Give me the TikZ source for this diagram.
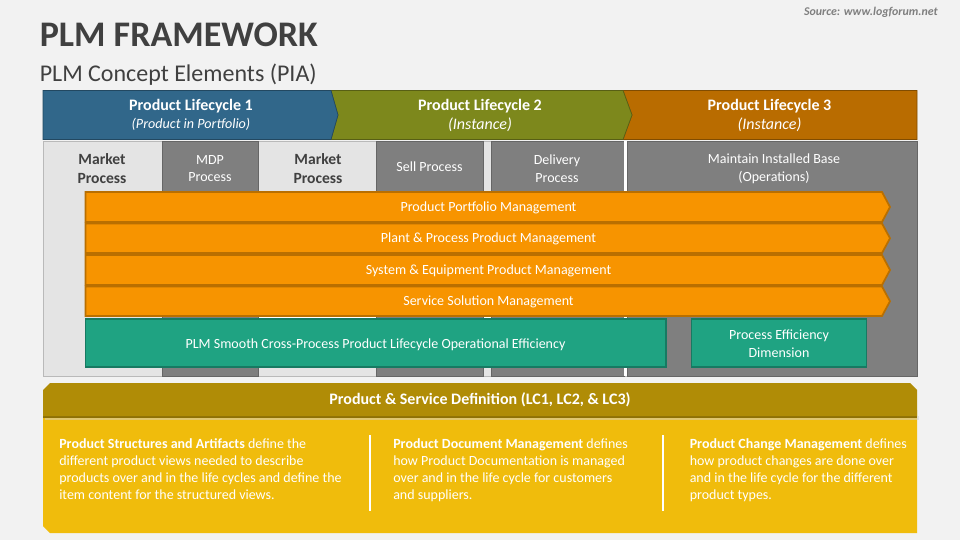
\documentclass[tikz,border=0pt]{standalone}
\usepackage{fontspec}
\setmainfont{Carlito}
\usetikzlibrary{calc}
\definecolor{bgc}{HTML}{F2F2F2}
\definecolor{panelc}{HTML}{E4E4E4}
\definecolor{grayc}{HTML}{7F7F7F}
\definecolor{grayd}{HTML}{666666}
\definecolor{bluec}{HTML}{31678A}
\definecolor{olivec}{HTML}{7D881C}
\definecolor{brownc}{HTML}{B96C00}
\definecolor{orangec}{HTML}{F79400}
\definecolor{oranged}{HTML}{B96F00}
\definecolor{greenc}{HTML}{1FA382}
\definecolor{greend}{HTML}{177A62}
\definecolor{goldc}{HTML}{B08C06}
\definecolor{goldd}{HTML}{8E7105}
\definecolor{yellowc}{HTML}{F0BC0C}
\definecolor{darkt}{HTML}{404040}
\tikzset{
  x=0.75pt,y=-0.75pt,
  lbl/.style={align=center,text=white,font=\fontsize{10.5}{13.2}\selectfont,inner sep=0pt},
  darklbl/.style={align=center,text=darkt,font=\fontsize{11.7}{14.4}\selectfont\bfseries,inner sep=0pt},
  head/.style={align=center,text=white,font=\fontsize{12}{14.6}\selectfont,inner sep=0pt},
  para/.style={align=left,anchor=north west,text=white,font=\fontsize{10.5}{12.8}\selectfont,inner sep=0pt},
  graybox/.style={fill=grayc,draw=grayd,line width=0.6pt},
  bar/.style={fill=orangec,draw=oranged,line width=1.3pt},
  greenbox/.style={fill=greenc,draw=greend,line width=1.3pt},
  divider/.style={draw=white,line width=1.1pt}
}
\begin{document}
\begin{tikzpicture}
\fill[bgc] (0,0) rectangle (960,540);
\useasboundingbox (0,0) rectangle (960,540);
% titles
\node[anchor=west,inner sep=0pt,text=darkt,font=\fontsize{27}{30}\selectfont\bfseries] (title) at (39.5,35) {PLM FRAMEWORK};
\node[anchor=west,inner sep=0pt,text=darkt,font=\fontsize{18}{20}\selectfont] (subtitle) at (39.5,74.5) {PLM Concept Elements (PIA)};
\node[anchor=east,inner sep=0pt,text=grayc,font=\fontsize{8.9}{10}\selectfont\bfseries\itshape] (source) at (938,12) {Source: www.logforum.net};
% lifecycle chevrons
\filldraw[fill=brownc,draw=brownc!70!black,line width=0.5pt] (623,90.5) -- (917,90.5) -- (917,139.5) -- (623,139.5) -- (632,115) -- cycle;
\filldraw[fill=olivec,draw=olivec!70!black,line width=0.5pt] (331,90.5) -- (623,90.5) -- (632,115) -- (623,139.5) -- (331,139.5) -- (338,115) -- cycle;
\filldraw[fill=bluec,draw=bluec!70!black,line width=0.5pt] (43,90.5) -- (331,90.5) -- (338,115) -- (331,139.5) -- (43,139.5) -- cycle;
\node[head] (lc1) at (191,115) {\textbf{Product Lifecycle 1}\\[-1pt]{\fontsize{10.6}{14}\selectfont\itshape (Product in Portfolio)}};
\node[head] (lc2) at (480,115.5) {\textbf{Product Lifecycle 2}\\{\itshape (Instance)}};
\node[head] (lc3) at (769.5,115.5) {\textbf{Product Lifecycle 3}\\{\itshape (Instance)}};
% process panel
\filldraw[fill=panelc,draw=gray!55,line width=0.6pt] (43,141) rectangle (917,376);
\filldraw[graybox] (162,141) rectangle (258.5,376);
\filldraw[graybox] (376,141) rectangle (483.5,376);
\filldraw[graybox] (491,141) rectangle (624,376);
\fill[white] (624,141) rectangle (627,376);
\filldraw[graybox] (627,141) rectangle (917,376);
\node[darklbl] (m1) at (102,168.5) {Market\\Process};
\node[lbl] (mdp) at (210,168.5) {MDP\\Process};
\node[darklbl] (m2) at (318,168.5) {Market\\Process};
\node[lbl] (sell) at (429.5,166.5) {Sell Process};
\node[lbl] (del) at (557,168.5) {Delivery\\Process};
\node[lbl] (maint) at (774,168.5) {Maintain Installed Base\\(Operations)};
% white gaps between bars and lower part
\fill[white] (258.5,316) rectangle (376,319);
\fill[white] (483.5,316) rectangle (491,319);
\fill[white] (624,316) rectangle (627,319);
% orange bars
\foreach \nm/\ya/\yb/\txt in {b1/192/222/Product Portfolio Management,b2/223.5/253/Plant \& Process Product Management,b3/255/285/System \& Equipment Product Management,b4/286.5/316/Service Solution Management}{
  \filldraw[bar] (85.5,\ya) -- (882,\ya) -- (890,{(\ya+\yb)/2}) -- (882,\yb) -- (85.5,\yb) -- cycle;
  \node[lbl] (\nm) at (488.5,{(\ya+\yb)/2+0.8}) {\txt};
}
% green boxes
\filldraw[greenbox] (85.5,319) rectangle (666,367);
\node[lbl] (g1) at (375.5,344.3) {PLM Smooth Cross-Process Product Lifecycle Operational Efficiency};
\filldraw[greenbox] (691.5,319) rectangle (866.5,367);
\node[lbl] (g2) at (779,343.5) {Process Efficiency\\Dimension};
% bottom panel
\fill[yellowc] (43,410) -- (917,410) -- (917,533) -- (50,533) -- (43,526) -- cycle;
\fill[black!18,opacity=0.5] (45,416) rectangle (919,420);
\fill[goldd] (43,410) rectangle (917,418);
\fill[goldc] (50,383) -- (910,383) -- (917,390) -- (917,416) -- (43,416) -- (43,390) -- cycle;
\node[inner sep=0pt,text=white,font=\fontsize{12}{14}\selectfont\bfseries] (ps) at (480,399.5) {Product \& Service Definition (LC1, LC2, \& LC3)};
\node[para] (p1) at (59,438.3) {\textbf{Product Structures and Artifacts} define the\\different product views needed to describe\\products over and in the life cycles and define the\\item content for the structured views.};
\node[para] (p2) at (393,438.3) {\textbf{Product Document Management} defines\\how Product Documentation is managed\\over and in the life cycle for customers\\and suppliers.};
\node[para] (p3) at (689.5,438.3) {\textbf{Product Change Management} defines\\how product changes are done over\\and in the life cycle for the different\\product types.};
\coordinate (d1a) at (370,435); \coordinate (d1b) at (370,511);
\coordinate (d2a) at (663,435); \coordinate (d2b) at (663,511);
\draw[divider] (d1a) -- (d1b);
\draw[divider] (d2a) -- (d2b);
\end{tikzpicture}
\end{document}
